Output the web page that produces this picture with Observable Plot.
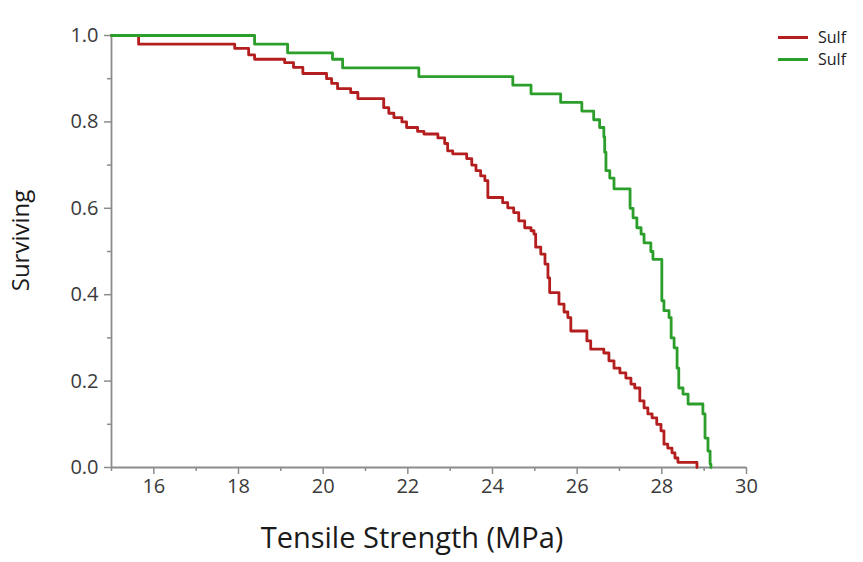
<!DOCTYPE html>
<html><head><meta charset="utf-8">
<script src="https://cdn.jsdelivr.net/npm/d3@7"></script>
<script src="https://cdn.jsdelivr.net/npm/@observablehq/plot@0.6"></script>
<style>
body{margin:0;background:#fff;font-family:"Open Sans",sans-serif;}
#wrap{position:relative;width:863px;height:562px;overflow:hidden;}
.leg{position:absolute;left:778px;height:18px;line-height:18px;display:flex;align-items:center;font-size:16px;color:#222;white-space:nowrap;}
.leg span.sw{display:inline-block;width:30px;height:0;border-top:3px solid;margin-right:10px;}
</style></head><body><div id="wrap"></div>
<script>
const seriesNames = ["Sulf", "Sulf"];
const seriesColors = ["#b41e1e", "#2b9e2b"];
const xLabel = "Tensile Strength (MPa)";
const yLabel = "Surviving";
const xMajorTicks = [16, 18, 20, 22, 24, 26, 28, 30];
const xMinorTicks = [15, 17, 19, 21, 23, 25, 27, 29];
const yMajorTicks = [0, 0.2, 0.4, 0.6, 0.8, 1.0];
const yMinorTicks = [0.1, 0.3, 0.5, 0.7, 0.9];

const redT = [15, 15.64, 17.91, 18.24, 18.38, 19.09, 19.30, 19.52, 20.08, 20.20, 20.34, 20.65, 20.82, 21.43, 21.55, 21.67, 21.86, 21.97, 22.23, 22.38, 22.71, 22.87, 22.94, 23.06, 23.39, 23.51, 23.61, 23.72, 23.82, 23.89, 24.24, 24.36, 24.50, 24.62, 24.76, 24.91, 24.98, 25.02, 25.14, 25.24, 25.31, 25.35, 25.57, 25.69, 25.78, 25.85, 26.23, 26.32, 26.63, 26.75, 26.87, 27.01, 27.15, 27.27, 27.36, 27.48, 27.58, 27.67, 27.77, 27.88, 27.98, 28.05, 28.14, 28.24, 28.31, 28.38, 28.83];
const redS = [1.0, 0.98, 0.97, 0.955, 0.945, 0.937, 0.926, 0.912, 0.90, 0.889, 0.877, 0.868, 0.854, 0.833, 0.82, 0.81, 0.80, 0.787, 0.778, 0.772, 0.763, 0.75, 0.733, 0.726, 0.715, 0.70, 0.687, 0.675, 0.664, 0.625, 0.613, 0.601, 0.59, 0.571, 0.555, 0.548, 0.54, 0.51, 0.494, 0.471, 0.439, 0.405, 0.378, 0.36, 0.347, 0.316, 0.293, 0.274, 0.265, 0.247, 0.23, 0.219, 0.207, 0.193, 0.184, 0.154, 0.138, 0.124, 0.115, 0.10, 0.085, 0.054, 0.045, 0.034, 0.022, 0.012, 0.0];

const greenT = [15, 18.38, 19.16, 20.22, 20.46, 22.26, 24.48, 24.91, 25.61, 26.11, 26.39, 26.53, 26.63, 26.65, 26.68, 26.77, 26.87, 27.25, 27.32, 27.41, 27.51, 27.58, 27.74, 27.79, 28.00, 28.05, 28.17, 28.22, 28.29, 28.36, 28.40, 28.50, 28.62, 28.97, 29.02, 29.09, 29.14, 29.16];
const greenS = [1.0, 0.98, 0.96, 0.945, 0.925, 0.905, 0.885, 0.865, 0.845, 0.825, 0.805, 0.787, 0.765, 0.73, 0.687, 0.67, 0.645, 0.60, 0.578, 0.555, 0.54, 0.52, 0.50, 0.482, 0.386, 0.363, 0.347, 0.30, 0.277, 0.23, 0.184, 0.17, 0.147, 0.124, 0.068, 0.038, 0.008, 0.0];

const red = redT.map((t, i) => ({t, s: redS[i]}));
const green = greenT.map((t, i) => ({t, s: greenS[i]}));

const axisGray = "#8c8c8c";
const textGray = "#3a3a3a";

const chart = Plot.plot({
  width: 863, height: 562,
  marginLeft: 111, marginRight: 117, marginTop: 35, marginBottom: 95,
  x: {domain: [15, 30]},
  y: {domain: [0, 1]},
  style: {fontFamily: "'Open Sans', sans-serif", background: "transparent", overflow: "visible"},
  marks: [
    Plot.axisX(xMajorTicks, {tickSize: 7, stroke: axisGray, fill: textGray, fontSize: 20, tickPadding: 4, label: null, strokeWidth: 1.5}),
    Plot.axisX(xMinorTicks, {tickSize: 4, stroke: axisGray, tickFormat: () => "", label: null, strokeWidth: 1.5}),
    Plot.axisY(yMajorTicks, {tickSize: 7, stroke: axisGray, fill: textGray, fontSize: 20, tickPadding: 6, tickFormat: d3.format(".1f"), label: null, strokeWidth: 1.5}),
    Plot.axisY(yMinorTicks, {tickSize: 4, stroke: axisGray, tickFormat: () => "", label: null, strokeWidth: 1.5}),
    Plot.ruleX([15], {stroke: axisGray, strokeWidth: 1.8}),
    Plot.ruleY([0], {stroke: axisGray, strokeWidth: 1.8}),
    Plot.line(red, {x: "t", y: "s", curve: "step-after", stroke: seriesColors[0], strokeWidth: 2.8}),
    Plot.line(green, {x: "t", y: "s", curve: "step-after", stroke: seriesColors[1], strokeWidth: 2.8}),
    Plot.text([xLabel], {text: d => d, frameAnchor: "bottom", textAnchor: "middle", lineAnchor: "middle", dx: -17, dy: 71, fontSize: 29, fill: "#1a1a1a"}),
    Plot.text([yLabel], {text: d => d, frameAnchor: "left", textAnchor: "middle", lineAnchor: "middle", dx: -90, dy: -11, rotate: -90, fontSize: 24, fill: "#1a1a1a"})
  ]
});

const wrap = document.getElementById("wrap");
wrap.appendChild(chart);
seriesNames.forEach((name, i) => {
  const d = document.createElement("div");
  d.className = "leg";
  d.style.top = (28 + i * 22) + "px";
  d.innerHTML = `<span class="sw" style="border-color:${seriesColors[i]}"></span><span>${name}</span>`;
  wrap.appendChild(d);
});
</script>
</body></html>
